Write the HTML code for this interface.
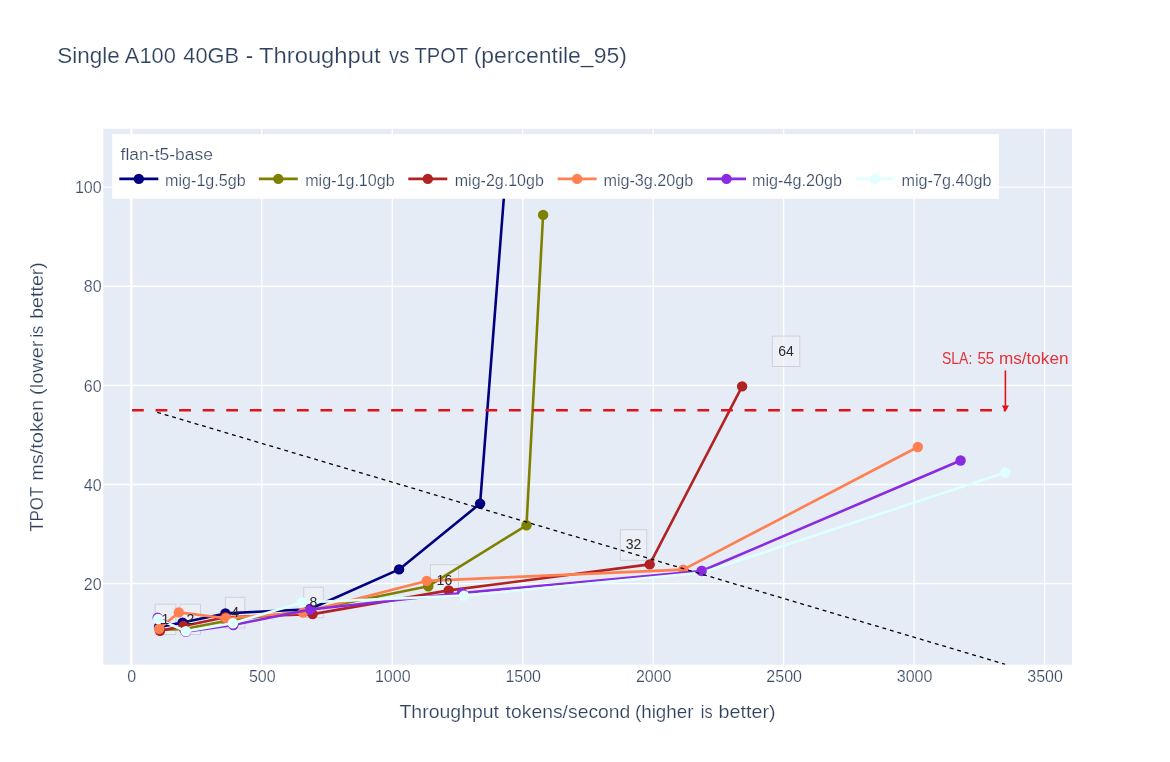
<!DOCTYPE html><html><head><meta charset="utf-8"><style>html,body{margin:0;padding:0;background:#fff;}svg{display:block;filter:blur(0.55px)}</style></head><body>
<svg width="1170" height="762" viewBox="0 0 1170 762" style="font-family:'Liberation Sans', sans-serif">
<rect x="0" y="0" width="1170" height="762" fill="#ffffff"/>
<defs><clipPath id="pc"><rect x="103.3" y="128.8" width="968.7" height="535.9"/></clipPath></defs>
<rect x="103.3" y="128.8" width="968.7" height="535.9" fill="#e5ecf6"/>
<line x1="261.77" y1="128.8" x2="261.77" y2="664.7" stroke="#fff" stroke-width="1.3"/>
<line x1="392.24" y1="128.8" x2="392.24" y2="664.7" stroke="#fff" stroke-width="1.3"/>
<line x1="522.71" y1="128.8" x2="522.71" y2="664.7" stroke="#fff" stroke-width="1.3"/>
<line x1="653.18" y1="128.8" x2="653.18" y2="664.7" stroke="#fff" stroke-width="1.3"/>
<line x1="783.65" y1="128.8" x2="783.65" y2="664.7" stroke="#fff" stroke-width="1.3"/>
<line x1="914.12" y1="128.8" x2="914.12" y2="664.7" stroke="#fff" stroke-width="1.3"/>
<line x1="1044.59" y1="128.8" x2="1044.59" y2="664.7" stroke="#fff" stroke-width="1.3"/>
<line x1="103.3" y1="583.60" x2="1072.0" y2="583.60" stroke="#fff" stroke-width="1.3"/>
<line x1="103.3" y1="484.48" x2="1072.0" y2="484.48" stroke="#fff" stroke-width="1.3"/>
<line x1="103.3" y1="385.36" x2="1072.0" y2="385.36" stroke="#fff" stroke-width="1.3"/>
<line x1="103.3" y1="286.24" x2="1072.0" y2="286.24" stroke="#fff" stroke-width="1.3"/>
<line x1="103.3" y1="187.12" x2="1072.0" y2="187.12" stroke="#fff" stroke-width="1.3"/>
<line x1="131.30" y1="128.8" x2="131.30" y2="664.7" stroke="#fff" stroke-width="2.6"/>
<rect x="155.2" y="604.2" width="20.6" height="30.3" fill="rgba(240,241,246,0.6)" stroke="#cdd2da" stroke-width="1"/>
<rect x="180.2" y="604.2" width="20.3" height="30.3" fill="rgba(240,241,246,0.6)" stroke="#cdd2da" stroke-width="1"/>
<rect x="225.4" y="597.3" width="19.4" height="30.6" fill="rgba(240,241,246,0.6)" stroke="#cdd2da" stroke-width="1"/>
<rect x="303.7" y="587.3" width="19.6" height="30.3" fill="rgba(240,241,246,0.6)" stroke="#cdd2da" stroke-width="1"/>
<rect x="430.4" y="564.7" width="28.1" height="32.5" fill="rgba(240,241,246,0.6)" stroke="#cdd2da" stroke-width="1"/>
<rect x="620.3" y="529.7" width="26.4" height="30.6" fill="rgba(240,241,246,0.6)" stroke="#cdd2da" stroke-width="1"/>
<rect x="772.3" y="336.1" width="27.5" height="30.4" fill="rgba(240,241,246,0.6)" stroke="#cdd2da" stroke-width="1"/>
<g clip-path="url(#pc)">
<path d="M159,627 L182.6,622.6 L225.4,613.4 L309.5,609.2 L399.1,569.4 L480.1,503.6 L506,170" fill="none" stroke="#000080" stroke-width="2.6" stroke-linejoin="round"/>
<circle cx="159" cy="627" r="5.2" fill="#000080"/>
<circle cx="182.6" cy="622.6" r="5.2" fill="#000080"/>
<circle cx="225.4" cy="613.4" r="5.2" fill="#000080"/>
<circle cx="309.5" cy="609.2" r="5.2" fill="#000080"/>
<circle cx="399.1" cy="569.4" r="5.2" fill="#000080"/>
<circle cx="480.1" cy="503.6" r="5.2" fill="#000080"/>
<circle cx="506" cy="170" r="5.2" fill="#000080"/>
<path d="M160,630 L184,629 L226,621 L306,611 L428.3,586.2 L526.5,525.3 L543.1,214.9" fill="none" stroke="#808000" stroke-width="2.6" stroke-linejoin="round"/>
<circle cx="160" cy="630" r="5.2" fill="#808000"/>
<circle cx="184" cy="629" r="5.2" fill="#808000"/>
<circle cx="226" cy="621" r="5.2" fill="#808000"/>
<circle cx="306" cy="611" r="5.2" fill="#808000"/>
<circle cx="428.3" cy="586.2" r="5.2" fill="#808000"/>
<circle cx="526.5" cy="525.3" r="5.2" fill="#808000"/>
<circle cx="543.1" cy="214.9" r="5.2" fill="#808000"/>
<path d="M160,630.7 L183.5,626 L225.4,617.2 L312.6,614.1 L448.7,590.4 L649.7,564.4 L742.1,386.4" fill="none" stroke="#b22222" stroke-width="2.6" stroke-linejoin="round"/>
<circle cx="160" cy="630.7" r="5.2" fill="#b22222"/>
<circle cx="183.5" cy="626" r="5.2" fill="#b22222"/>
<circle cx="225.4" cy="617.2" r="5.2" fill="#b22222"/>
<circle cx="312.6" cy="614.1" r="5.2" fill="#b22222"/>
<circle cx="448.7" cy="590.4" r="5.2" fill="#b22222"/>
<circle cx="649.7" cy="564.4" r="5.2" fill="#b22222"/>
<circle cx="742.1" cy="386.4" r="5.2" fill="#b22222"/>
<path d="M159.1,628.8 L178.8,612.4 L226,618.3 L303,612.5 L426.7,580.9 L683.2,569.6 L917.8,447" fill="none" stroke="#ff7f50" stroke-width="2.6" stroke-linejoin="round"/>
<circle cx="159.1" cy="628.8" r="5.2" fill="#ff7f50"/>
<circle cx="178.8" cy="612.4" r="5.2" fill="#ff7f50"/>
<circle cx="226" cy="618.3" r="5.2" fill="#ff7f50"/>
<circle cx="303" cy="612.5" r="5.2" fill="#ff7f50"/>
<circle cx="426.7" cy="580.9" r="5.2" fill="#ff7f50"/>
<circle cx="683.2" cy="569.6" r="5.2" fill="#ff7f50"/>
<circle cx="917.8" cy="447" r="5.2" fill="#ff7f50"/>
<path d="M157.7,617.6 L185.9,631.8 L233.3,625 L310.3,609.5 L462,593 L701.7,571 L960.6,460.5" fill="none" stroke="#8a2be2" stroke-width="2.6" stroke-linejoin="round"/>
<circle cx="157.7" cy="617.6" r="5.2" fill="#8a2be2"/>
<circle cx="185.9" cy="631.8" r="5.2" fill="#8a2be2"/>
<circle cx="233.3" cy="625" r="5.2" fill="#8a2be2"/>
<circle cx="310.3" cy="609.5" r="5.2" fill="#8a2be2"/>
<circle cx="462" cy="593" r="5.2" fill="#8a2be2"/>
<circle cx="701.7" cy="571" r="5.2" fill="#8a2be2"/>
<circle cx="960.6" cy="460.5" r="5.2" fill="#8a2be2"/>
<path d="M158.2,619 L185.9,631.2 L232.9,623.2 L302,602.5 L464,595.6 L702.5,572.5 L1005.5,472.5" fill="none" stroke="#e0ffff" stroke-width="2.6" stroke-linejoin="round"/>
<circle cx="158.2" cy="619" r="5.2" fill="#e0ffff"/>
<circle cx="185.9" cy="631.2" r="5.2" fill="#e0ffff"/>
<circle cx="232.9" cy="623.2" r="5.2" fill="#e0ffff"/>
<circle cx="302" cy="602.5" r="5.2" fill="#e0ffff"/>
<circle cx="464" cy="595.6" r="5.2" fill="#e0ffff"/>
<circle cx="702.5" cy="572.5" r="5.2" fill="#e0ffff"/>
<circle cx="1005.5" cy="472.5" r="5.2" fill="#e0ffff"/>
<circle cx="701.7" cy="571" r="5.2" fill="#8a2be2"/>
<line x1="132" y1="410.3" x2="1005.4" y2="410.3" stroke="#e3121a" stroke-width="2.6" stroke-dasharray="11.78 11.78"/>
<line x1="157.2" y1="412.3" x2="1005.1" y2="664.3" stroke="#000000" stroke-width="1.3" stroke-dasharray="3.9 3.9"/>
</g>
<text x="165.5" y="623.6" font-size="14" fill="#2b2b2b" text-anchor="middle">1</text>
<text x="190.3" y="623.6" font-size="14" fill="#2b2b2b" text-anchor="middle">2</text>
<text x="235.1" y="616.9" font-size="14" fill="#2b2b2b" text-anchor="middle">4</text>
<text x="313.5" y="606.8" font-size="14" fill="#2b2b2b" text-anchor="middle">8</text>
<text x="444.4" y="585.2" font-size="14" fill="#2b2b2b" text-anchor="middle">16</text>
<text x="633.5" y="549.3" font-size="14" fill="#2b2b2b" text-anchor="middle">32</text>
<text x="786.0" y="355.6" font-size="14" fill="#2b2b2b" text-anchor="middle">64</text>
<text x="942.07" y="364.1" font-size="16.5" fill="#e3333a" textLength="30.19" lengthAdjust="spacingAndGlyphs">SLA:</text>
<text x="977.39" y="364.1" font-size="16.5" fill="#e3333a" textLength="16.96" lengthAdjust="spacingAndGlyphs">55</text>
<text x="998.94" y="364.1" font-size="16.5" fill="#e3333a" textLength="69.51" lengthAdjust="spacingAndGlyphs">ms/token</text>
<line x1="1005.4" y1="370.5" x2="1005.4" y2="406" stroke="#e3121a" stroke-width="1.6"/>
<path d="M1001.8,405.5 L1009,405.5 L1005.4,411.8 Z" fill="#e3121a"/>
<rect x="112.2" y="134.2" width="886.7" height="64.5" fill="#ffffff"/>
<text x="120.64" y="160.1" font-size="15.6" fill="#3a4c66" textLength="92.32" lengthAdjust="spacingAndGlyphs" stroke="#ffffff" stroke-width="0.2">flan-t5-base</text>
<line x1="119.3" y1="178.9" x2="158.3" y2="178.9" stroke="#000080" stroke-width="2.6"/>
<circle cx="138.8" cy="178.9" r="5.2" fill="#000080"/>
<text x="165.11" y="185.5" font-size="15.6" fill="#3a4c66" textLength="80.54" lengthAdjust="spacingAndGlyphs" stroke="#ffffff" stroke-width="0.2">mig-1g.5gb</text>
<line x1="258.8" y1="178.9" x2="297.8" y2="178.9" stroke="#808000" stroke-width="2.6"/>
<circle cx="278.3" cy="178.9" r="5.2" fill="#808000"/>
<text x="305.21" y="185.5" font-size="15.6" fill="#3a4c66" textLength="89.46" lengthAdjust="spacingAndGlyphs" stroke="#ffffff" stroke-width="0.2">mig-1g.10gb</text>
<line x1="408.3" y1="178.9" x2="447.3" y2="178.9" stroke="#b22222" stroke-width="2.6"/>
<circle cx="427.8" cy="178.9" r="5.2" fill="#b22222"/>
<text x="454.72" y="185.5" font-size="15.6" fill="#3a4c66" textLength="89.15" lengthAdjust="spacingAndGlyphs" stroke="#ffffff" stroke-width="0.2">mig-2g.10gb</text>
<line x1="557.6" y1="178.9" x2="596.6" y2="178.9" stroke="#ff7f50" stroke-width="2.6"/>
<circle cx="577.1" cy="178.9" r="5.2" fill="#ff7f50"/>
<text x="603.41" y="185.5" font-size="15.6" fill="#3a4c66" textLength="89.97" lengthAdjust="spacingAndGlyphs" stroke="#ffffff" stroke-width="0.2">mig-3g.20gb</text>
<line x1="707" y1="178.9" x2="746" y2="178.9" stroke="#8a2be2" stroke-width="2.6"/>
<circle cx="726.5" cy="178.9" r="5.2" fill="#8a2be2"/>
<text x="752.01" y="185.5" font-size="15.6" fill="#3a4c66" textLength="90.07" lengthAdjust="spacingAndGlyphs" stroke="#ffffff" stroke-width="0.2">mig-4g.20gb</text>
<line x1="855.6" y1="178.9" x2="894.6" y2="178.9" stroke="#e0ffff" stroke-width="2.6"/>
<circle cx="875.1" cy="178.9" r="5.2" fill="#e0ffff"/>
<text x="901.41" y="185.5" font-size="15.6" fill="#3a4c66" textLength="90.07" lengthAdjust="spacingAndGlyphs" stroke="#ffffff" stroke-width="0.2">mig-7g.40gb</text>
<text x="131.80" y="681.9" font-size="16" fill="#3a4c66" stroke="#ffffff" stroke-width="0.2" text-anchor="middle">0</text>
<text x="262.27" y="681.9" font-size="16" fill="#3a4c66" stroke="#ffffff" stroke-width="0.2" text-anchor="middle">500</text>
<text x="392.74" y="681.9" font-size="16" fill="#3a4c66" stroke="#ffffff" stroke-width="0.2" text-anchor="middle">1000</text>
<text x="523.21" y="681.9" font-size="16" fill="#3a4c66" stroke="#ffffff" stroke-width="0.2" text-anchor="middle">1500</text>
<text x="653.68" y="681.9" font-size="16" fill="#3a4c66" stroke="#ffffff" stroke-width="0.2" text-anchor="middle">2000</text>
<text x="784.15" y="681.9" font-size="16" fill="#3a4c66" stroke="#ffffff" stroke-width="0.2" text-anchor="middle">2500</text>
<text x="914.62" y="681.9" font-size="16" fill="#3a4c66" stroke="#ffffff" stroke-width="0.2" text-anchor="middle">3000</text>
<text x="1045.09" y="681.9" font-size="16" fill="#3a4c66" stroke="#ffffff" stroke-width="0.2" text-anchor="middle">3500</text>
<text x="101.6" y="589.80" font-size="16" fill="#3a4c66" stroke="#ffffff" stroke-width="0.2" text-anchor="end">20</text>
<text x="101.6" y="490.68" font-size="16" fill="#3a4c66" stroke="#ffffff" stroke-width="0.2" text-anchor="end">40</text>
<text x="101.6" y="391.56" font-size="16" fill="#3a4c66" stroke="#ffffff" stroke-width="0.2" text-anchor="end">60</text>
<text x="101.6" y="292.44" font-size="16" fill="#3a4c66" stroke="#ffffff" stroke-width="0.2" text-anchor="end">80</text>
<text x="101.6" y="193.32" font-size="16" fill="#3a4c66" stroke="#ffffff" stroke-width="0.2" text-anchor="end">100</text>
<text x="57.19" y="63" font-size="22.1" fill="#2e425e" textLength="62.52" lengthAdjust="spacingAndGlyphs" stroke="#ffffff" stroke-width="0.2">Single</text>
<text x="124.85" y="63" font-size="22.1" fill="#2e425e" textLength="51.09" lengthAdjust="spacingAndGlyphs" stroke="#ffffff" stroke-width="0.2">A100</text>
<text x="183.31" y="63" font-size="22.1" fill="#2e425e" textLength="55.83" lengthAdjust="spacingAndGlyphs" stroke="#ffffff" stroke-width="0.2">40GB</text>
<text x="245.70" y="63" font-size="22.1" fill="#2e425e" textLength="7.42" lengthAdjust="spacingAndGlyphs" stroke="#ffffff" stroke-width="0.2">-</text>
<text x="258.96" y="63" font-size="22.1" fill="#2e425e" textLength="121.71" lengthAdjust="spacingAndGlyphs" stroke="#ffffff" stroke-width="0.2">Throughput</text>
<text x="389.10" y="63" font-size="22.1" fill="#2e425e" textLength="20.31" lengthAdjust="spacingAndGlyphs" stroke="#ffffff" stroke-width="0.2">vs</text>
<text x="414.45" y="63" font-size="22.1" fill="#2e425e" textLength="53.74" lengthAdjust="spacingAndGlyphs" stroke="#ffffff" stroke-width="0.2">TPOT</text>
<text x="473.66" y="63" font-size="22.1" fill="#2e425e" textLength="153.18" lengthAdjust="spacingAndGlyphs" stroke="#ffffff" stroke-width="0.2">(percentile_95)</text>
<text x="399.46" y="718.1" font-size="18.2" fill="#2e425e" textLength="99.58" lengthAdjust="spacingAndGlyphs" stroke="#ffffff" stroke-width="0.2">Throughput</text>
<text x="505.61" y="718.1" font-size="18.2" fill="#2e425e" textLength="124.73" lengthAdjust="spacingAndGlyphs" stroke="#ffffff" stroke-width="0.2">tokens/second</text>
<text x="634.92" y="718.1" font-size="18.2" fill="#2e425e" textLength="58.57" lengthAdjust="spacingAndGlyphs" stroke="#ffffff" stroke-width="0.2">(higher</text>
<text x="700.80" y="718.1" font-size="18.2" fill="#2e425e" textLength="11.76" lengthAdjust="spacingAndGlyphs" stroke="#ffffff" stroke-width="0.2">is</text>
<text x="718.52" y="718.1" font-size="18.2" fill="#2e425e" textLength="57.12" lengthAdjust="spacingAndGlyphs" stroke="#ffffff" stroke-width="0.2">better)</text>
<g transform="translate(42.8,0) rotate(-90)">
<text x="-531.78" y="0" font-size="17.6" fill="#2e425e" textLength="45.09" lengthAdjust="spacingAndGlyphs" stroke="#ffffff" stroke-width="0.2">TPOT</text>
<text x="-480.85" y="0" font-size="17.6" fill="#2e425e" textLength="80.89" lengthAdjust="spacingAndGlyphs" stroke="#ffffff" stroke-width="0.2">ms/token</text>
<text x="-394.95" y="0" font-size="17.6" fill="#2e425e" textLength="54.45" lengthAdjust="spacingAndGlyphs" stroke="#ffffff" stroke-width="0.2">(lower</text>
<text x="-337.60" y="0" font-size="17.6" fill="#2e425e" textLength="11.76" lengthAdjust="spacingAndGlyphs" stroke="#ffffff" stroke-width="0.2">is</text>
<text x="-318.77" y="0" font-size="17.6" fill="#2e425e" textLength="56.60" lengthAdjust="spacingAndGlyphs" stroke="#ffffff" stroke-width="0.2">better)</text>
</g>
</svg></body></html>
